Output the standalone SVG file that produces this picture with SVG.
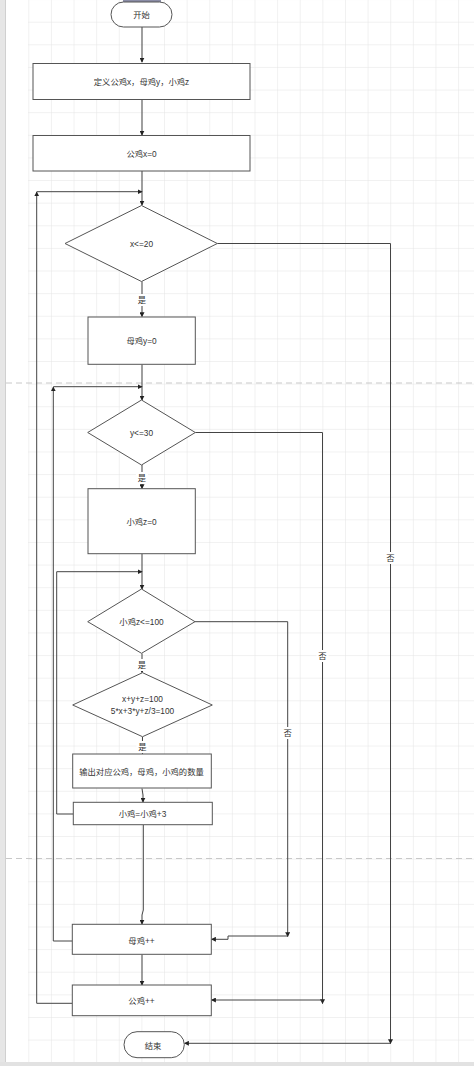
<svg xmlns="http://www.w3.org/2000/svg" width="474" height="1066" viewBox="0 0 474 1066">
<defs>
<pattern id="grid" width="22.62" height="22.62" patternUnits="userSpaceOnUse" x="28.3" y="21.7">
<path d="M0 0H22.62M0 0V22.62" fill="none" stroke="#e4e4e4" stroke-width="1"/>
</pattern>
<marker id="ah" viewBox="0 0 8 8" refX="7" refY="4" markerWidth="5" markerHeight="5" orient="auto" markerUnits="userSpaceOnUse">
<path d="M0 0L8 4L0 8Z" fill="#222"/>
</marker>
</defs>
<style>
.n{fill:#fff;stroke:#555;stroke-width:1}
.t{font-family:"Liberation Sans","Noto Sans CJK SC",sans-serif;font-size:8.3px;fill:#333;text-anchor:middle;dominant-baseline:central}
.e{fill:none;stroke:#444;stroke-width:1}
.lb{font-family:"Liberation Sans","Noto Sans CJK SC",sans-serif;font-size:8.3px;fill:#333;text-anchor:middle;dominant-baseline:central}
</style>
<rect width="474" height="1066" fill="#fff"/>
<rect x="28" y="0" width="446" height="1062" fill="url(#grid)"/>
<rect x="0" y="0" width="5" height="1066" fill="#e6e6e6"/>
<line x1="5.5" y1="0" x2="5.5" y2="1062" stroke="#d0d0d0"/>
<line x1="6" y1="383" x2="474" y2="383" stroke="#c8c8c8" stroke-dasharray="6 4"/>
<line x1="6" y1="858.5" x2="474" y2="858.5" stroke="#c8c8c8" stroke-dasharray="6 4"/>
<rect x="0" y="1062" width="474" height="4" fill="#e2e2e2"/>
<rect x="123" y="0" width="38" height="2" fill="#8a8ca6"/>

<g id="connectors">
<path class="e" d="M142 27V62" marker-end="url(#ah)"/>
<path class="e" d="M142 99.5V135" marker-end="url(#ah)"/>
<path class="e" d="M142 171V205" marker-end="url(#ah)"/>
<path class="e" d="M142 281.5V316.5" marker-end="url(#ah)"/>
<path class="e" d="M142 364.5V400" marker-end="url(#ah)"/>
<path class="e" d="M142 465V488.5" marker-end="url(#ah)"/>
<path class="e" d="M142 554V589" marker-end="url(#ah)"/>
<path class="e" d="M142 653.5V672.5" marker-end="url(#ah)"/>
<path class="e" d="M142.5 737V753.5" marker-end="url(#ah)"/>
<path class="e" d="M142 788.5L143 795V802" marker-end="url(#ah)"/>
<path class="e" d="M143.3 825V910L142 915V924" marker-end="url(#ah)"/>
<path class="e" d="M142 954.5V985" marker-end="url(#ah)"/>
<path class="e" d="M72.5 1003.3H36.7V192" marker-end="url(#ah)"/>
<path class="e" d="M36.7 191.7H142" marker-end="url(#ah)"/>
<path class="e" d="M72.5 941H53.3V387" marker-end="url(#ah)"/>
<path class="e" d="M53.3 386.7H142" marker-end="url(#ah)"/>
<path class="e" d="M73.3 814H56.7V571.7H142" marker-end="url(#ah)"/>
<path class="e" d="M217.3 243.5H390.5V1043.5" marker-end="url(#ah)"/>
<path class="e" d="M390.5 1043.3H184.5" marker-end="url(#ah)"/>
<path class="e" d="M195.3 432.5H322.5V1003.5" marker-end="url(#ah)"/>
<path class="e" d="M322.5 1000H211.5" marker-end="url(#ah)"/>
<path class="e" d="M195 621.7H287.7V936.5" marker-end="url(#ah)"/>
<path class="e" d="M287.7 936H228V939.3H211.5" marker-end="url(#ah)"/>
<rect x="136" y="294" width="12" height="12" fill="#fff"/>
<text class="lb" x="142" y="300">是</text>
<rect x="136" y="472" width="12" height="12" fill="#fff"/>
<text class="lb" x="142" y="478">是</text>
<rect x="136" y="659" width="12" height="12" fill="#fff"/>
<text class="lb" x="142" y="665">是</text>
<rect x="136.5" y="741" width="12" height="12" fill="#fff"/>
<text class="lb" x="142.5" y="747">是</text>
<rect x="384.5" y="552" width="12" height="12" fill="#fff"/>
<text class="lb" x="390.5" y="558">否</text>
<rect x="316.5" y="650" width="12" height="12" fill="#fff"/>
<text class="lb" x="322.5" y="656">否</text>
<rect x="281.7" y="727" width="12" height="12" fill="#fff"/>
<text class="lb" x="287.7" y="733">否</text>
</g>

<g id="start"><rect class="n" x="111" y="2" width="61" height="25" rx="12.5"/><text class="t" x="141.5" y="15">开始</text></g>
<g id="define"><rect class="n" x="33" y="63.5" width="217" height="36"/><text class="t" x="141.5" y="82">定义公鸡x，母鸡y，小鸡z</text></g>
<g id="x0"><rect class="n" x="33" y="135.5" width="217" height="35.5"/><text class="t" x="141.5" y="153.5">公鸡x=0</text></g>
<g id="condx"><path class="n" d="M141.5 205.5L217.3 243.5L141.5 281.5L65 243.5Z"/><text class="t" x="141.5" y="244">x&lt;=20</text></g>
<g id="y0"><rect class="n" x="88" y="317" width="107.3" height="47.3"/><text class="t" x="141.5" y="341">母鸡y=0</text></g>
<g id="condy"><path class="n" d="M141.5 400L195.3 432.5L141.5 465L87.7 432.5Z"/><text class="t" x="141.5" y="433">y&lt;=30</text></g>
<g id="z0"><rect class="n" x="88" y="488.7" width="107.3" height="65"/><text class="t" x="141.5" y="522">小鸡z=0</text></g>
<g id="condz"><path class="n" d="M141.5 589L195 621.7L141.5 653.3L87.7 621.7Z"/><text class="t" x="141.5" y="622">小鸡z&lt;=100</text></g>
<g id="condsum"><path class="n" d="M142.5 672.7L212.3 705L142.5 736.7L72.7 705Z"/><text class="t" x="142.5" y="699.3">x+y+z=100</text><text class="t" x="142.5" y="710.7">5*x+3*y+z/3=100</text></g>
<g id="output"><rect class="n" x="72.7" y="754" width="138.6" height="34"/><text class="t" x="141.5" y="772">输出对应公鸡，母鸡，小鸡的数量</text></g>
<g id="zinc"><rect class="n" x="73.3" y="802.3" width="139" height="22.4"/><text class="t" x="142.5" y="814">小鸡=小鸡+3</text></g>
<g id="yinc"><rect class="n" x="72.3" y="924.3" width="139" height="30"/><text class="t" x="141.5" y="941">母鸡++</text></g>
<g id="xinc"><rect class="n" x="72.3" y="985" width="139" height="30.7"/><text class="t" x="141.5" y="1000.5">公鸡++</text></g>
<g id="end"><rect class="n" x="124" y="1031.7" width="60.3" height="26" rx="13"/><text class="t" x="153" y="1045.5">结束</text></g>
</svg>
